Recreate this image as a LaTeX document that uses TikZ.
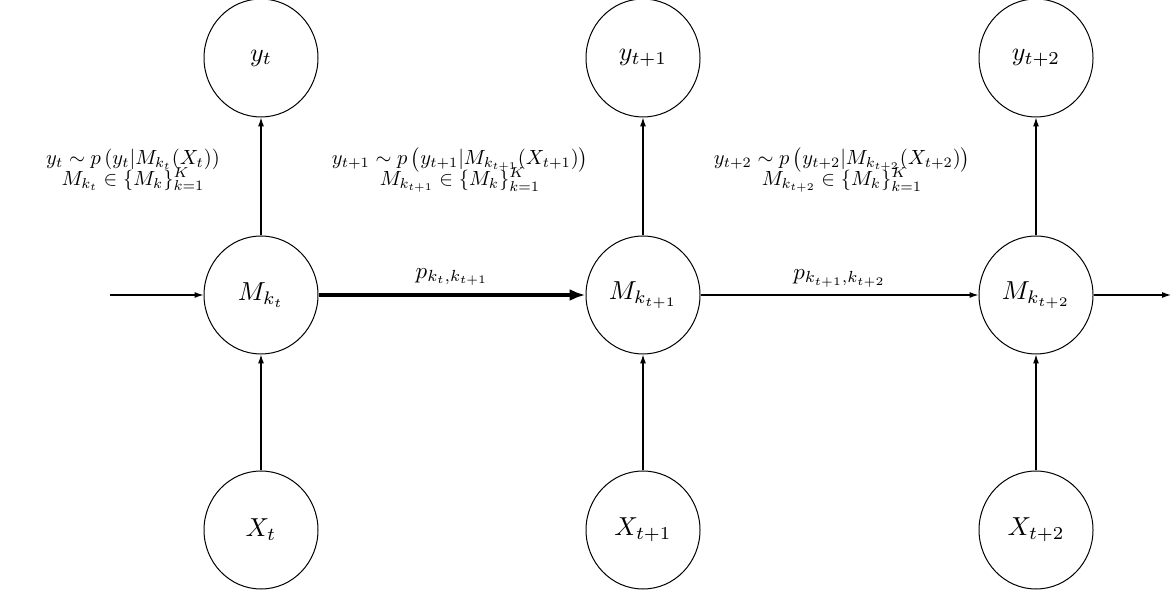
\documentclass[tikz,border=0pt]{standalone}
\usepackage{graphicx}
\usetikzlibrary{arrows.meta,shapes.geometric}
\begin{document}
\begin{tikzpicture}[x=1pt,y=1pt,
  st/.style={draw,line width=1pt,ellipse,minimum width=114pt,minimum height=118pt,inner sep=0pt},
  ar/.style={-{Latex[length=9pt,width=6pt]},line width=1.1pt}]
\path[use as bounding box] (0,0) rectangle (1172,589);
\newcommand{\bigt}[1]{\scalebox{2.6}{$#1$}}
\newcommand{\labt}[1]{\scalebox{2.05}{#1}}
\node[st] (y1) at (261,531) {\bigt{y_t}};
\node[st] (y2) at (643,531) {\bigt{y_{t+1}}};
\node[st] (y3) at (1036,531) {\bigt{y_{t+2}}};
\node[st] (m1) at (261,294) {\bigt{M_{k_t}}};
\node[st] (m2) at (643,294) {\bigt{M_{k_{t+1}}}};
\node[st] (m3) at (1036,294) {\bigt{M_{k_{t+2}}}};
\node[st] (x1) at (261,59) {\bigt{X_t}};
\node[st] (x2) at (643,59) {\bigt{X_{t+1}}};
\node[st] (x3) at (1036,59) {\bigt{X_{t+2}}};
\coordinate (in) at (110,294);
\coordinate (out) at (1171,294);
\draw[ar] (in) -- (m1);
\draw[-{Latex[length=16pt,width=12pt]},line width=3.5pt] (m1) -- (m2) node[midway,above=4pt]{\scalebox{2.3}{$p_{k_t,k_{t+1}}$}};
\draw[ar] (m2) -- (m3) node[midway,above=4pt]{\scalebox{2.3}{$p_{k_{t+1},k_{t+2}}$}};
\draw[ar] (m3) -- (out);
\foreach \i in {1,2,3}{\draw[ar] (x\i) -- (m\i); \draw[ar] (m\i) -- (y\i);}
\node (l1) at (133,419) {\labt{\begin{tabular}{@{}c@{}}$y_t\sim p\left(y_t|M_{k_t}(X_t)\right)$\\[-2pt]$M_{k_t}\in\{M_k\}_{k=1}^K$\end{tabular}}};
\node (l2) at (460,419) {\labt{\begin{tabular}{@{}c@{}}$y_{t+1}\sim p\left(y_{t+1}|M_{k_{t+1}}(X_{t+1})\right)$\\[-2pt]$M_{k_{t+1}}\in\{M_k\}_{k=1}^K$\end{tabular}}};
\node (l3) at (842,419) {\labt{\begin{tabular}{@{}c@{}}$y_{t+2}\sim p\left(y_{t+2}|M_{k_{t+2}}(X_{t+2})\right)$\\[-2pt]$M_{k_{t+2}}\in\{M_k\}_{k=1}^K$\end{tabular}}};
\end{tikzpicture}
\end{document}
